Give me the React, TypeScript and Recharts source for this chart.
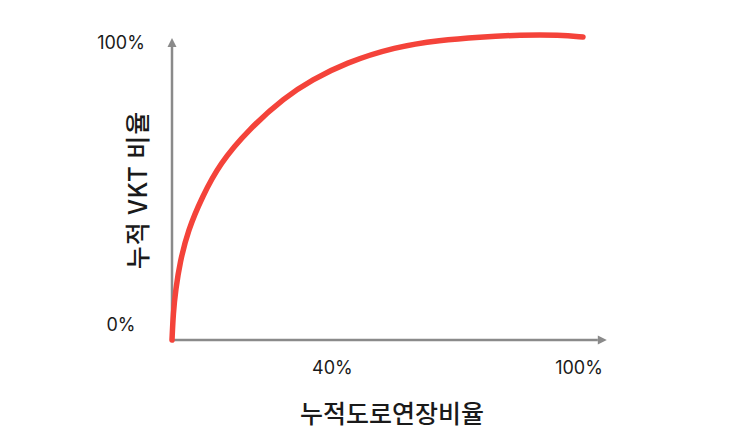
import { LineChart, Line, XAxis, YAxis, ReferenceLine } from 'recharts';

// 누적도로연장비율 (%) vs 누적 VKT 비율 (%)
const roadShare = [0, 0.3, 0.9, 1.9, 3.9, 7.3, 11.7, 18.5, 27.5, 34.1, 42.1, 54.3, 65.2, 74.9, 84.7, 94.4, 100];
const vktShare = [0, 8.8, 16.5, 25.2, 35.9, 46.7, 57.8, 68.6, 79.4, 85.0, 90.5, 95.8, 98.0, 99.0, 99.7, 99.7, 99.0];
const xTicks = [40, 100];
const yTicks = [0, 100];
const xTitle = '누적도로연장비율';
const yTitle = '누적 VKT 비율';

const data = roadShare.map((x, i) => ({ x, y: vktShare[i] }));

const FONT = '"Noto Sans CJK KR", "Noto Sans", sans-serif';
const NUM_FONT = 'Inter, "Noto Sans", sans-serif';
const AXIS = '#8a8a8a';
const RED = '#f4433a';

const ArrowLine = (props: any) => {
  const { x1, y1, x2, y2 } = props;
  const dx = x2 - x1;
  const dy = y2 - y1;
  const len = Math.sqrt(dx * dx + dy * dy) || 1;
  const ux = dx / len;
  const uy = dy / len;
  const head = 9;
  const half = 4.5;
  const bx = x2 - ux * head;
  const by = y2 - uy * head;
  const pts = `${x2},${y2} ${bx - uy * half},${by + ux * half} ${bx + uy * half},${by - ux * half}`;
  return (
    <g>
      <line x1={x1} y1={y1} x2={bx} y2={by} stroke={AXIS} strokeWidth={2.5} />
      <polygon points={pts} fill={AXIS} />
    </g>
  );
};

const XTick = ({ x, y, payload }: any) => (
  <text x={x - 4} y={y + 26} textAnchor="middle" fontSize={18} fill="#1a1a1a" fontFamily={NUM_FONT}>
    {payload.value}%
  </text>
);

const YTick = ({ y, payload }: any) => (
  <text x={121} y={payload.value === 0 ? y - 9 : y + 15} textAnchor="middle" fontSize={18} fill="#1a1a1a" fontFamily={NUM_FONT}>
    {payload.value}%
  </text>
);

export default function App() {
  return (
    <div style={{ position: 'absolute', left: 0, top: 0, width: 743, height: 444, background: '#fff' }}>
      <LineChart width={743} height={444} data={data} margin={{ top: 34, right: 160, bottom: 64, left: 112 }}>
        <XAxis
          dataKey="x"
          type="number"
          domain={[0, 100]}
          ticks={xTicks}
          axisLine={false}
          tickLine={false}
          tick={<XTick />}
          height={40}
        />
        <YAxis
          type="number"
          domain={[0, 100]}
          ticks={yTicks}
          axisLine={false}
          tickLine={false}
          tick={<YTick />}
          width={60}
        />
        <ReferenceLine
          segment={[{ x: 0, y: 0 }, { x: 105.8, y: 0 }]}
          ifOverflow="visible"
          shape={<ArrowLine />}
        />
        <ReferenceLine
          segment={[{ x: 0, y: 0 }, { x: 0, y: 98.7 }]}
          ifOverflow="visible"
          shape={<ArrowLine />}
        />
        <Line
          type="basis"
          dataKey="y"
          stroke={RED}
          strokeWidth={5.5}
          strokeLinecap="round"
          dot={false}
          isAnimationActive={false}
        />
      </LineChart>
      <div
        style={{
          position: 'absolute',
          left: 392,
          top: 412,
          transform: 'translate(-50%, -50%)',
          fontFamily: FONT,
          fontSize: 25,
          fontWeight: 500,
          color: '#1a1a1a',
          whiteSpace: 'nowrap',
        }}
      >
        {xTitle}
      </div>
      <div
        style={{
          position: 'absolute',
          left: 136,
          top: 190,
          transform: 'translate(-50%, -50%) rotate(-90deg)',
          fontFamily: FONT,
          fontSize: 25,
          fontWeight: 500,
          letterSpacing: 1,
          color: '#1a1a1a',
          whiteSpace: 'nowrap',
        }}
      >
        {yTitle}
      </div>
    </div>
  );
}
